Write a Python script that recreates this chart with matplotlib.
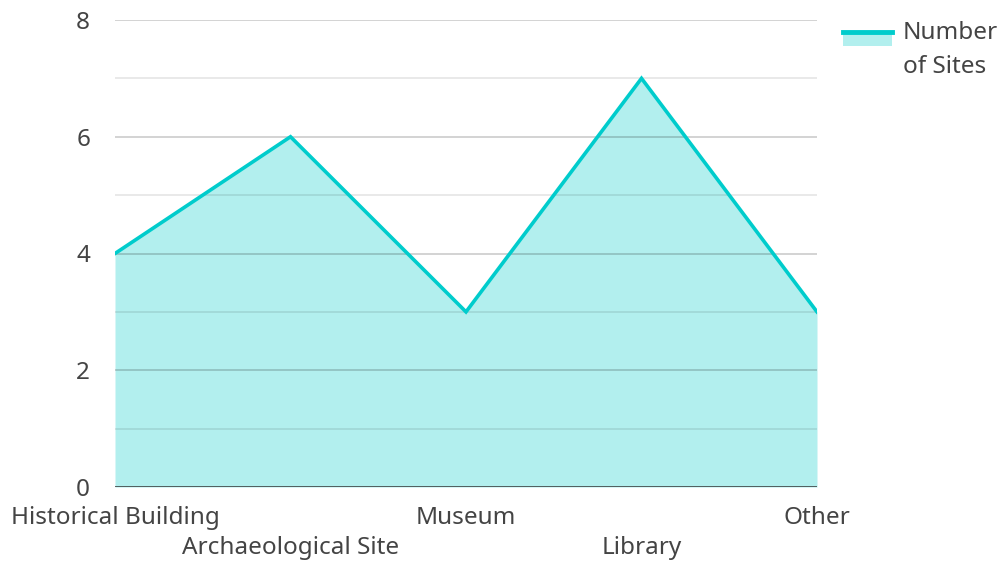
import matplotlib
matplotlib.use("Agg")
import matplotlib.pyplot as plt
from matplotlib.legend_handler import HandlerBase
from matplotlib.patches import Rectangle
from matplotlib.lines import Line2D

plt.rcParams['font.family'] = ['Noto Sans', 'DejaVu Sans']

categories = ["Historical Building", "Archaeological Site", "Museum", "Library", "Other"]
sites = [4, 6, 3, 7, 3]
series_name = "Number\nof Sites"

line_col = "#00cccc"
fill_col = "#b2efee"
text_col = "#444444"
fs = 17.5

fig = plt.figure(figsize=(10.01, 5.62), dpi=100)
ax = fig.add_axes([115/1001, 1-487/562, 702/1001, 467/562])

x = list(range(len(categories)))
ax.fill_between(x, sites, 0, color=fill_col, lw=0, zorder=1)
ax.plot(x, sites, color=line_col, lw=2.6, zorder=3, solid_joinstyle='miter')

# grid drawn over the fill, translucent so it darkens inside the area
for v in range(1, 9):
    ax.axhline(v, color="black", alpha=0.2 if v % 2 == 0 else 0.1, lw=1.2, zorder=2)
ax.axhline(0, color="#333333", lw=1.8, zorder=4)

ax.set_xlim(0, len(categories) - 1)
ax.set_ylim(0, 8)
ax.set_yticks([0, 2, 4, 6, 8])
ax.set_xticks(x)
ax.set_xticklabels([("" if i % 2 == 0 else "\n") + c for i, c in enumerate(categories)])
ax.tick_params(axis='both', length=0, labelsize=fs, colors=text_col)
ax.tick_params(axis='y', pad=18)
ax.tick_params(axis='x', pad=14)
for lab in ax.get_xticklabels():
    lab.set_linespacing(1.3)
for s in ax.spines.values():
    s.set_visible(False)


class AreaHandler(HandlerBase):
    def create_artists(self, legend, orig_handle, xdescent, ydescent,
                       width, height, fontsize, trans):
        top = -ydescent + height
        r = Rectangle((-xdescent, top - 13), width, 11,
                      facecolor=fill_col, edgecolor='none', transform=trans)
        l = Line2D([-xdescent, -xdescent + width], [top - 2.5] * 2,
                   color=line_col, lw=3.5, transform=trans)
        return [r, l]


h = Rectangle((0, 0), 1, 1)
leg = fig.legend([h], [series_name], handler_map={Rectangle: AreaHandler()},
                 loc='upper left', bbox_to_anchor=(843/1001, 1-21/562),
                 borderaxespad=0, borderpad=0,
                 frameon=False, fontsize=fs, handlelength=2.0, handletextpad=0.45,
                 handleheight=2.6, labelcolor=text_col)
for t in leg.get_texts():
    t.set_linespacing(1.55)

fig.savefig("out.png", dpi=100)
